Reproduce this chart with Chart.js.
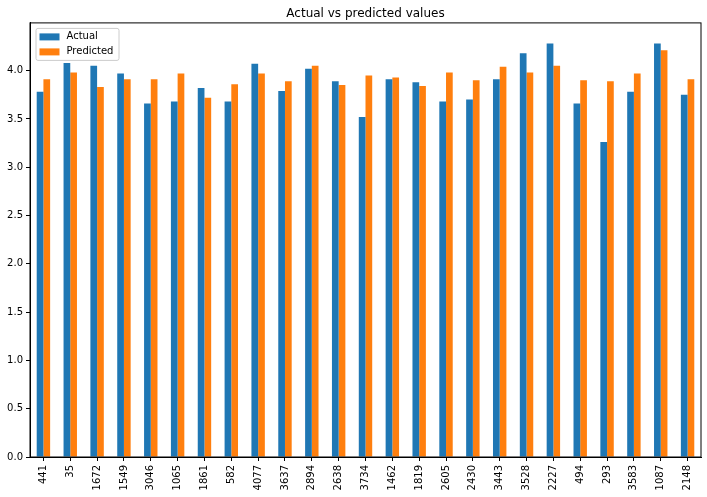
<!DOCTYPE html>
<html>
<head>
<meta charset="utf-8">
<script src="https://cdn.jsdelivr.net/npm/chart.js@4/dist/chart.umd.min.js"></script>
<style>
  body { margin: 0; background: #fff; }
  #caja { width: 707px; height: 497px; position: relative; }
</style>
</head>
<body>
<div id="caja"><canvas id="grafico"></canvas></div>
<script>
const categorias = ['441', '35', '1672', '1549', '3046', '1065', '1861', '582', '4077', '3637',
    '2894', '2638', '3734', '1462', '1819', '2605', '2430', '3443', '3528', '2227',
    '494', '293', '3583', '1087', '2148'];
const actual = [3.78, 4.08, 4.05, 3.97, 3.66, 3.68, 3.82, 3.68, 4.07, 3.79,
    4.02, 3.89, 3.52, 3.91, 3.88, 3.68, 3.70, 3.91, 4.18, 4.28,
    3.66, 3.26, 3.78, 4.28, 3.75];
const predicted = [3.91, 3.98, 3.83, 3.91, 3.91, 3.97, 3.72, 3.86, 3.97, 3.89,
    4.05, 3.85, 3.95, 3.93, 3.84, 3.98, 3.90, 4.04, 3.98, 4.05,
    3.90, 3.89, 3.97, 4.21, 3.91];
const ticksY = [0, 0.5, 1, 1.5, 2, 2.5, 3, 3.5, 4];

const FUENTE = 'DejaVu Sans';

// marco de ejes completo (arriba y derecha tambien)
const marco = {
    id: 'marco',
    afterDraw(chart) {
        const ctx = chart.ctx;
        const a = chart.chartArea;
        ctx.save();
        ctx.strokeStyle = '#000';
        ctx.lineWidth = 1;
        ctx.strokeRect(a.left, a.top, a.right - a.left, a.bottom - a.top);
        ctx.restore();
    }
};

// leyenda dentro del area, estilo matplotlib
const leyenda = {
    id: 'leyenda',
    afterDraw(chart) {
        const ctx = chart.ctx;
        const a = chart.chartArea;
        const x = a.left + 5.5, y = a.top + 5;
        ctx.save();
        ctx.fillStyle = 'rgba(255,255,255,0.8)';
        ctx.strokeStyle = '#cccccc';
        ctx.lineWidth = 1;
        ctx.beginPath();
        ctx.roundRect(x + 0.5, y + 0.5, 83, 32, 2);
        ctx.fill();
        ctx.stroke();
        ctx.font = '10px "' + FUENTE + '"';
        ctx.textBaseline = 'middle';
        chart.data.datasets.forEach((ds, i) => {
            const fy = y + 9 + i * 15;
            ctx.fillStyle = ds.backgroundColor;
            ctx.fillRect(x + 4, fy - 3.5, 20, 7);
            ctx.fillStyle = '#000';
            ctx.fillText(ds.label, x + 31, fy);
        });
        ctx.restore();
    }
};

new Chart(document.getElementById('grafico'), {
    type: 'bar',
    data: {
        labels: categorias,
        datasets: [
            { label: 'Actual', data: actual, backgroundColor: '#1f77b4' },
            { label: 'Predicted', data: predicted, backgroundColor: '#ff7f0e' }
        ]
    },
    options: {
        responsive: true,
        maintainAspectRatio: false,
        animation: false,
        categoryPercentage: 0.5,
        barPercentage: 1.0,
        layout: { padding: { left: 0, right: 6, top: 0, bottom: 0 } },
        plugins: {
            legend: { display: false },
            tooltip: { enabled: false },
            title: {
                display: true,
                fullSize: false,
                text: 'Actual vs predicted values',
                color: '#000',
                font: { family: FUENTE, size: 12, weight: 'normal' },
                padding: { top: 7, bottom: 1.5 }
            }
        },
        scales: {
            x: {
                offset: true,
                grid: { display: true, drawOnChartArea: false, drawTicks: true, tickLength: 4, color: '#000', offset: false },
                border: { color: '#000' },
                ticks: {
                    autoSkip: false, maxRotation: 90, minRotation: 90,
                    color: '#000', padding: 4,
                    font: { family: FUENTE, size: 10 }
                },
                afterFit(scale) { scale.height = 40; }
            },
            y: {
                min: 0,
                max: 4.494,
                grid: { drawOnChartArea: false, drawTicks: true, tickLength: 4, color: '#000' },
                border: { color: '#000' },
                afterBuildTicks(scale) { scale.ticks = ticksY.map(v => ({ value: v })); },
                ticks: {
                    color: '#000', padding: 3,
                    font: { family: FUENTE, size: 10 },
                    callback: v => v.toFixed(1)
                },
                afterFit(scale) { scale.width = 30; }
            }
        }
    },
    plugins: [marco, leyenda]
});
</script>
</body>
</html>
